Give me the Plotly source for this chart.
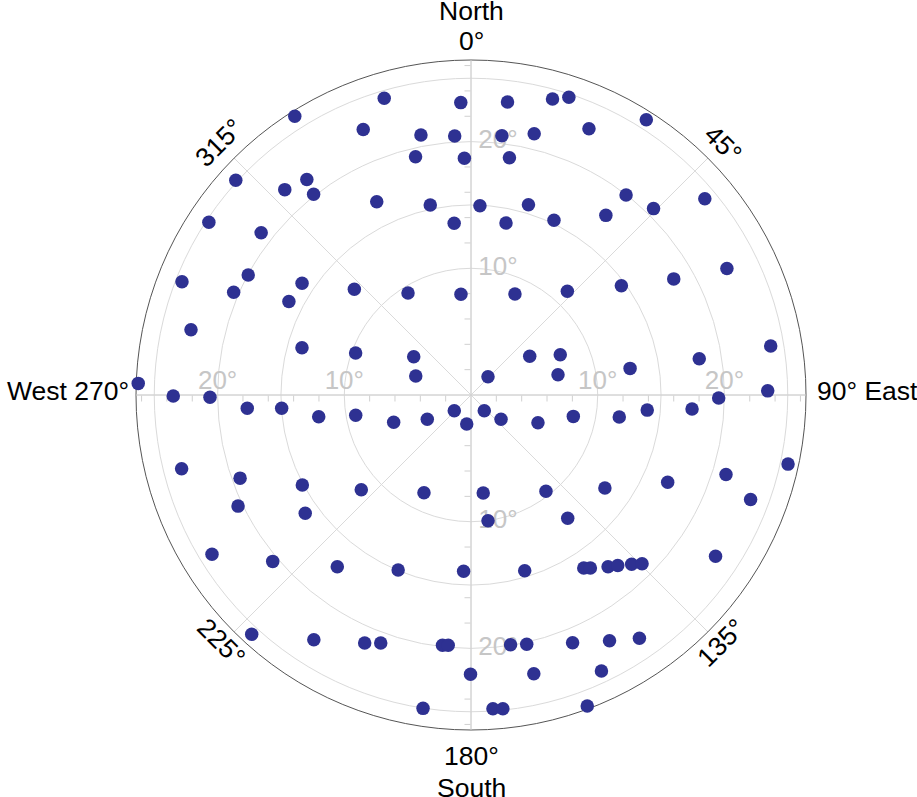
import plotly.graph_objects as go

# Radial value (degrees) and azimuth (degrees, clockwise from North) of each point
radius_deg = [
    24.40, 23.09, 26.03, 22.61, 20.90, 20.48, 19.31, 18.69, 25.14, 21.38,
    21.88, 20.13, 16.97, 15.34, 13.62, 24.78, 20.93, 24.50, 19.97, 15.99,
    20.41, 12.43, 9.46, 7.99, 16.16, 22.69, 13.85, 9.69, 5.44, 4.61, 26.28,
    23.31, 24.23, 24.73, 25.75, 22.98, 20.61, 21.21, 18.97, 14.96, 15.69,
    19.97, 20.59, 24.09, 13.85, 15.27, 17.73, 22.53, 18.44, 14.67, 11.17,
    8.70, 23.97, 18.24, 5.55, 7.73, 7.05, 12.73, 1.97, 23.42,
    23.50, 20.60, 17.69, 14.98, 12.14, 9.24, 6.47, 3.95, 1.81, 2.31,
    23.57, 19.37, 15.09, 11.44, 8.56, 20.37, 16.07, 24.00, 20.43, 17.18,
    14.96, 13.93, 25.62, 22.96, 21.30, 20.83, 19.88, 19.84, 22.04, 25.02,
    1.62, 3.05, 5.72, 8.25, 11.83, 13.96, 17.48, 19.55, 25.61, 21.08,
    23.56, 16.98, 12.87, 9.63, 7.80, 10.01, 12.37, 23.12, 14.50, 16.30,
    16.59, 17.34, 17.76, 18.42, 18.96, 19.96, 20.16, 21.13, 22.27, 23.35,
    22.55, 24.09, 24.82, 24.89, 26.20,
]
azimuth_deg = [
    343.7, 358.0, 327.7, 337.9, 349.1, 356.4, 346.9, 358.4, 312.4, 322.7,
    317.8, 321.9, 334.0, 347.9, 354.4, 303.4, 307.7, 291.4, 298.3, 303.5,
    293.4, 312.2, 328.3, 354.3, 297.2, 283.1, 285.6, 290.0, 303.8, 289.0, 272.0,
    7.1, 15.4, 18.2, 32.5, 23.9, 6.8, 13.6, 9.2, 2.7, 16.8,
    37.8, 44.4, 50.0, 11.5, 25.4, 36.9, 63.7, 60.2, 54.0, 42.9,
    23.5, 80.7, 81.0, 56.6, 65.7, 76.9, 80.5, 42.9, 89.2,
    269.8, 269.5, 266.6, 266.0, 261.9, 260.0, 250.6, 240.9, 226.8, 188.4,
    255.7, 250.2, 241.9, 229.2, 205.7, 244.5, 234.5, 238.4, 230.0, 217.9,
    202.6, 182.4, 222.5, 212.7, 203.2, 200.0, 186.5, 185.2, 180.1, 188.7,
    139.7, 129.0, 112.5, 101.8, 98.4, 94.9, 93.6, 90.7, 102.3, 107.3,
    110.5, 113.9, 124.8, 142.1, 172.9, 172.3, 141.9, 123.4, 163.0, 146.9,
    145.4, 141.4, 139.3, 136.5, 134.6, 171.0, 167.4, 157.7, 150.6, 145.3,
    167.3, 154.7, 176.0, 174.2, 159.5,
]

R_MAX = 26.44
grid_circles = [10, 15, 20, 25]
spoke_angles = [0, 45, 90, 135, 180, 225, 270, 315]
minor_ticks = [2, 4, 6, 8, 12, 14, 16, 18, 22, 24, 26]
label_r = [10, 20]
label_text = ["10°", "20°"]

FONT = "Liberation Sans"
GRID = "#dadada"
AXIS = "#d0d0d0"
DOT = "#2E3192"
LABEL_GREY = "#c6c6c6"
FULL = dict(x=[0, 1], y=[0, 1])

# page geometry
W_PX, H_PX = 917, 797
M = dict(l=110, r=85, t=60, b=67)
PW = W_PX - M["l"] - M["r"]
PH = H_PX - M["t"] - M["b"]


def paper(px, py):
    return (px - M["l"]) / PW, 1 - (py - M["t"]) / PH


# angular labels: (text, pixel x, pixel y, x anchor, rotation)
angular_labels = [
    ("North", 471, 11, "center", 0),
    ("0°", 471, 41.5, "center", 0),
    ("90° East", 815, 390.5, "left", 0),
    ("West 270°", 131, 390.5, "right", 0),
    ("180°", 471, 755.5, "center", 0),
    ("South", 471, 787.5, "center", 0),
    ("45°", 723, 144, "center", 45),
    ("135°", 721, 643, "center", -45),
    ("225°", 221, 642, "center", 45),
    ("315°", 219, 143, "center", -45),
]

fig = go.Figure()

hidden_radial = dict(visible=False, range=[0, R_MAX])
hidden_angular = dict(visible=False, rotation=90, direction="clockwise")

layout = dict(
    width=W_PX, height=H_PX,
    margin=M,
    paper_bgcolor="white",
    showlegend=False,
    font=dict(family=FONT, color="black"),
)

# main polar: grid circles, spokes, outer line
layout["polar"] = dict(
    domain=FULL,
    bgcolor="white",
    radialaxis=dict(range=[0, R_MAX], tickvals=grid_circles, showticklabels=False,
                    ticks="", showline=False, gridcolor=GRID, gridwidth=1),
    angularaxis=dict(rotation=90, direction="clockwise", tickvals=spoke_angles,
                     showticklabels=False, ticks="", showline=True,
                     linecolor="#555555", linewidth=1, gridcolor=GRID),
)
# axis lines with minor ticks in the four directions
axis_specs = [(90, "counterclockwise"), (270, "clockwise"), (0, "clockwise"), (180, "counterclockwise")]
for i, (ang, side) in enumerate(axis_specs):
    layout[f"polar{2 + i}"] = dict(
        domain=FULL,
        bgcolor="rgba(0,0,0,0)",
        angularaxis=hidden_angular,
        radialaxis=dict(range=[0, R_MAX], angle=ang, side=side, showline=True,
                        linecolor=AXIS, linewidth=1, ticks="outside", ticklen=6,
                        tickcolor=AXIS, tickwidth=1, tickvals=minor_ticks,
                        showticklabels=False, showgrid=False),
    )
# data polar
layout["polar6"] = dict(domain=FULL, bgcolor="rgba(0,0,0,0)", radialaxis=hidden_radial,
                        angularaxis=hidden_angular)

for i in range(1, 6):
    key = "polar" if i == 1 else f"polar{i}"
    fig.add_trace(go.Scatterpolar(r=[], theta=[], subplot=key, mode="markers",
                                  hoverinfo="skip"))

# radial labels along the four axes (vertical axes: labels to the right)
lab_dirs = [(0, "middle right", "\u00a0"), (180, "middle right", "\u00a0"),
            (270, "top center", ""), (90, "top center", "")]
for th, pos, pad in lab_dirs:
    fig.add_trace(go.Scatterpolar(
        r=label_r, theta=[th] * len(label_r), text=[pad + t for t in label_text],
        mode="text", textposition=pos, subplot="polar6", hoverinfo="skip",
        textfont=dict(size=26, family=FONT, color=LABEL_GREY),
    ))

fig.add_trace(go.Scatterpolar(
    r=radius_deg, theta=azimuth_deg, mode="markers", subplot="polar6",
    marker=dict(size=13.5, color=DOT, line=dict(width=0)),
))

annotations = []
for text, px, py, xa, rot in angular_labels:
    ax_, ay_ = paper(px, py)
    annotations.append(dict(
        text=text, x=ax_, y=ay_, xref="paper", yref="paper",
        xanchor=xa, yanchor="middle", textangle=rot, showarrow=False,
        font=dict(size=26.5, family=FONT, color="black"),
    ))
layout["annotations"] = annotations

fig.update_layout(**layout)
fig.write_html(
    "out.html",
    config={"displayModeBar": False},
    post_script="document.body.style.margin='0';document.body.style.overflow='hidden';",
)
